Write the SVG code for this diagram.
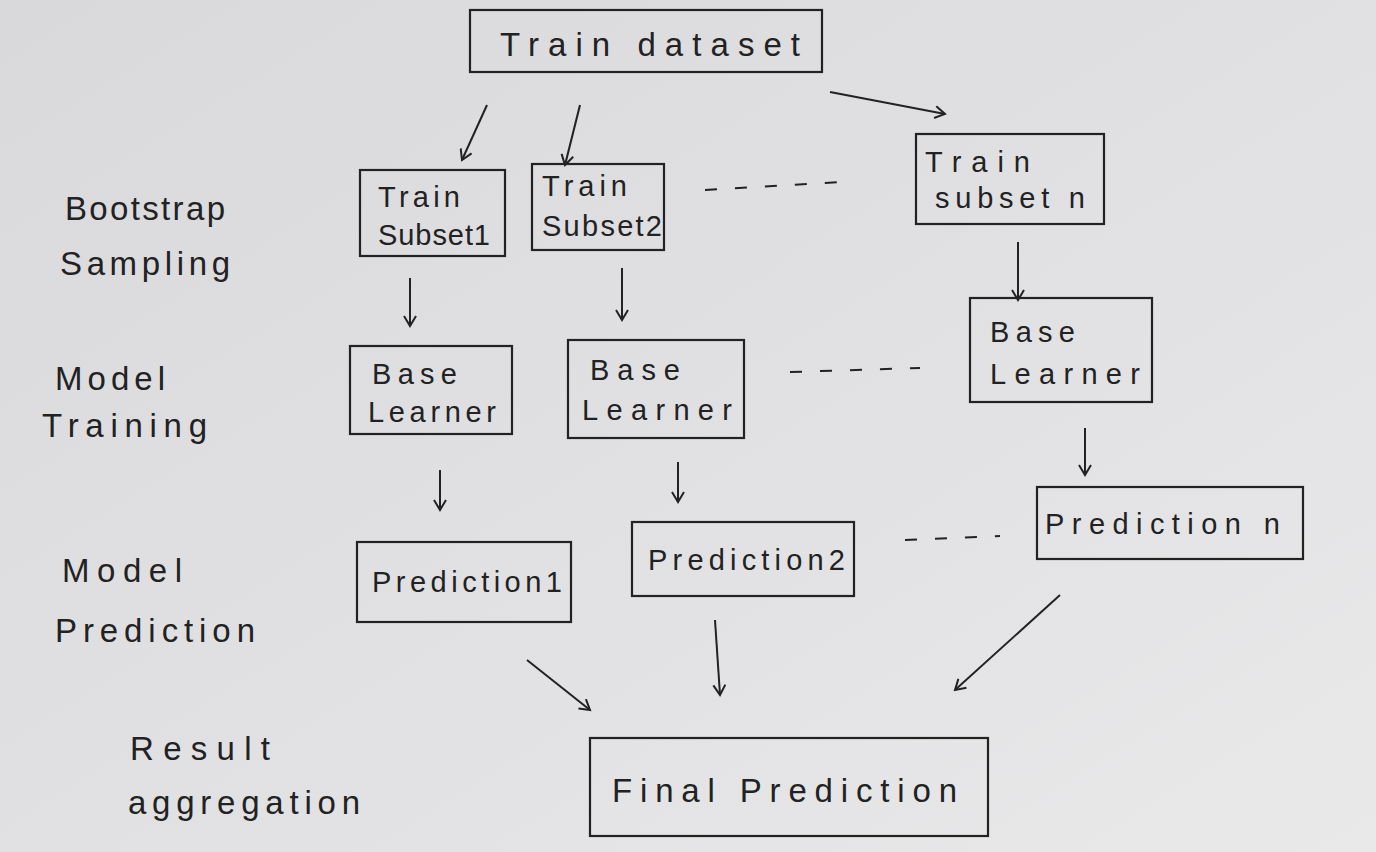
<svg xmlns="http://www.w3.org/2000/svg" width="1376" height="852" viewBox="0 0 1376 852">
<defs>
<linearGradient id="bg" x1="0" y1="0" x2="1" y2="1"><stop offset="0" stop-color="#d9d9db"/><stop offset="0.6" stop-color="#e2e2e4"/><stop offset="1" stop-color="#e9e9ea"/></linearGradient>
<marker id="ah" markerWidth="14" markerHeight="14" refX="11" refY="7" orient="auto" markerUnits="userSpaceOnUse"><path d="M1,1 L11,7 L1,13" fill="none" stroke="#222" stroke-width="2"/></marker>
<style>
.box{fill:none;stroke:#222;stroke-width:2.2}
.t{font-family:"Liberation Sans",sans-serif;fill:#222;font-size:33px}
.s{font-size:29px}
.c{stroke:#222;stroke-width:2;fill:none;marker-end:url(#ah)}
.d{stroke:#222;stroke-width:2;stroke-dasharray:12 18}
</style>
</defs>
<rect width="1376" height="852" fill="url(#bg)"/>
<g id="labels" class="t">
<text x="65" y="220" textLength="160" lengthAdjust="spacing">Bootstrap</text><text x="60" y="275" textLength="170" lengthAdjust="spacing">Sampling</text>
<text x="55" y="390" textLength="110" lengthAdjust="spacing">Model</text><text x="42" y="437" textLength="165" lengthAdjust="spacing">Training</text>
<text x="62" y="582" textLength="120" lengthAdjust="spacing">Model</text><text x="55" y="642" textLength="200" lengthAdjust="spacing">Prediction</text>
<text x="130" y="760" textLength="140" lengthAdjust="spacing">Result</text><text x="128" y="814" textLength="232" lengthAdjust="spacing">aggregation</text>
</g>
<g id="train"><rect class="box" x="470" y="10" width="352" height="62"/><text class="t" x="500" y="56" font-size="38" textLength="300" lengthAdjust="spacing">Train dataset</text></g>
<g id="sub1"><rect class="box" x="360" y="170" width="145" height="86"/><text class="t s" x="378" y="207" textLength="82" lengthAdjust="spacing">Train</text><text class="t s" x="378" y="245" textLength="112" lengthAdjust="spacing">Subset1</text></g>
<g id="sub2"><rect class="box" x="532" y="164" width="132" height="86"/><text class="t s" x="542" y="196" textLength="85" lengthAdjust="spacing">Train</text><text class="t s" x="542" y="236" textLength="120" lengthAdjust="spacing">Subset2</text></g>
<g id="subn"><rect class="box" x="916" y="134" width="188" height="90"/><text class="t s" x="925" y="172" textLength="105" lengthAdjust="spacing">Train</text><text class="t s" x="935" y="208" textLength="150" lengthAdjust="spacing">subset n</text></g>
<g id="bl1"><rect class="box" x="350" y="346" width="162" height="88"/><text class="t s" x="372" y="384" textLength="85" lengthAdjust="spacing">Base</text><text class="t s" x="368" y="422" textLength="128" lengthAdjust="spacing">Learner</text></g>
<g id="bl2"><rect class="box" x="568" y="340" width="176" height="98"/><text class="t s" x="590" y="380" textLength="90" lengthAdjust="spacing">Base</text><text class="t s" x="582" y="420" textLength="150" lengthAdjust="spacing">Learner</text></g>
<g id="bln"><rect class="box" x="970" y="298" width="182" height="104"/><text class="t s" x="990" y="342" textLength="85" lengthAdjust="spacing">Base</text><text class="t s" x="990" y="384" textLength="150" lengthAdjust="spacing">Learner</text></g>
<g id="p1"><rect class="box" x="357" y="542" width="214" height="80"/><text class="t s" x="372" y="592" textLength="190" lengthAdjust="spacing">Prediction1</text></g>
<g id="p2"><rect class="box" x="632" y="522" width="222" height="74"/><text class="t s" x="648" y="570" textLength="197" lengthAdjust="spacing">Prediction2</text></g>
<g id="pn"><rect class="box" x="1037" y="487" width="266" height="72"/><text class="t s" x="1045" y="534" textLength="235" lengthAdjust="spacing">Prediction n</text></g>
<g id="final"><rect class="box" x="590" y="738" width="398" height="98"/><text class="t" x="612" y="802" font-size="36" textLength="345" lengthAdjust="spacing">Final Prediction</text></g>
<g id="connectors">
<line class="c" x1="487" y1="105" x2="462" y2="160"/>
<line class="c" x1="580" y1="105" x2="565" y2="165"/>
<line class="c" x1="830" y1="92" x2="945" y2="114"/>
<line class="c" x1="410" y1="278" x2="410" y2="326"/>
<line class="c" x1="622" y1="268" x2="622" y2="320"/>
<line class="c" x1="1018" y1="242" x2="1018" y2="300"/>
<line class="c" x1="440" y1="470" x2="440" y2="510"/>
<line class="c" x1="678" y1="462" x2="678" y2="502"/>
<line class="c" x1="1085" y1="428" x2="1085" y2="475"/>
<line class="c" x1="527" y1="660" x2="590" y2="710"/>
<line class="c" x1="715" y1="620" x2="720" y2="695"/>
<line class="c" x1="1060" y1="595" x2="955" y2="690"/>
<line class="d" x1="705" y1="190" x2="840" y2="182"/>
<line class="d" x1="790" y1="372" x2="920" y2="368"/>
<line class="d" x1="905" y1="540" x2="1000" y2="536"/>
</g>
</svg>
